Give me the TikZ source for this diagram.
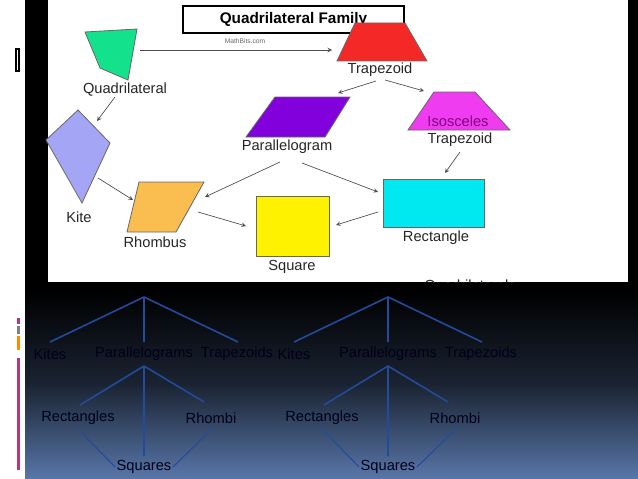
\documentclass[tikz,border=0pt]{standalone}
\usepackage{fontspec}
\setmainfont{Liberation Sans}
\begin{document}
\begin{tikzpicture}[x=0.75pt,y=-0.75pt,
  lbl/.style={font=\fontsize{11}{12}\selectfont,inner sep=0pt,text=black!85},
  tl/.style={font=\fontsize{11}{12}\selectfont,inner sep=1pt,text=black!90!blue},
  ar/.style={->,>=stealth,draw=black!70,line width=0.5pt},
  tr/.style={draw=treeblue,line width=1.2pt},
  sh/.style={draw=black!60,line width=0.6pt}]
\definecolor{treeblue}{RGB}{35,75,155}
\definecolor{botblue}{RGB}{88,118,168}
\definecolor{qgreen}{RGB}{20,225,140}
\definecolor{qcyan}{RGB}{0,232,240}
\definecolor{qmag}{RGB}{240,60,240}
\definecolor{qpurp}{RGB}{130,0,220}
\definecolor{qlav}{RGB}{165,165,245}
\definecolor{qorange}{RGB}{250,190,80}
\definecolor{qred}{RGB}{245,40,40}
\useasboundingbox (0,0) rectangle (638,478);
\fill[white] (0,0) rectangle (638,478);
\fill[black] (25,0) rectangle (638,478);
\shade[top color=black,bottom color=botblue,middle color=black!70!botblue] (25,290) rectangle (638,478);
\fill[black] (15,48) rectangle (20,72);
\fill[white] (17,50) rectangle (18,70);
\fill[black!30!magenta] (17,358) rectangle (20,470);
\fill[black!30!magenta] (17,318) rectangle (20,324);
\fill[gray] (17,326) rectangle (20,334);
\fill[orange!90!yellow] (17,336) rectangle (20,350);
% white panel
\fill[white] (48,0) rectangle (628,282);
\begin{scope}
\clip (48,270) rectangle (628,282);
\node[lbl] (qcut) at (470,287) {Quadrilaterals};
\end{scope}
% title
\node[draw=black,line width=1pt,minimum width=165.75pt,minimum height=20.25pt,font=\bfseries\fontsize{11.5}{12}\selectfont] (title) at (293.5,19.5) {Quadrilateral Family};
\node[font=\fontsize{5}{5}\selectfont,text=black!60] (mb) at (245,41) {MathBits.com};
% shapes
\filldraw[sh,fill=qgreen] (85,32) -- (137,29) -- (128,80) -- (100,68) -- cycle;
\node[lbl] (lq) at (125,90) {Quadrilateral};
\filldraw[sh,fill=qred] (355,23) -- (405,23) -- (427,61) -- (337,61) -- cycle;
\node[lbl] (lt) at (380,70) {Trapezoid};
\filldraw[sh,fill=qpurp] (275,97) -- (350,97) -- (325,137) -- (246,137) -- cycle;
\node[lbl] (lp) at (287,147) {Parallelogram};
\filldraw[sh,fill=qmag] (434,92) -- (475,92) -- (510,130) -- (408,130) -- cycle;
\node[lbl,text=violet] (li) at (458,121) {Isosceles};
\node[lbl] (li2) at (460,140) {Trapezoid};
\filldraw[sh,fill=qlav] (78,110) -- (110,143) -- (82,203) -- (46,140) -- cycle;
\node[lbl] (lk) at (79,217) {Kite};
\filldraw[sh,fill=qorange] (139,182) -- (204,182) -- (176,232) -- (127,232) -- cycle;
\node[lbl] (lr) at (155,242) {Rhombus};
\filldraw[sh,fill=yellow] (256,196) rectangle (329,256);
\node[lbl] (ls) at (292,267) {Square};
\filldraw[sh,fill=qcyan] (383,179) rectangle (484,227);
\node[lbl] (lre) at (436,238) {Rectangle};
% arrows
\coordinate (a1) at (140,50); \coordinate (b1) at (332,50);
\coordinate (a2) at (376,81); \coordinate (b2) at (338,93);
\coordinate (a3) at (385,80); \coordinate (b3) at (424,91);
\coordinate (a4) at (460,152); \coordinate (b4) at (445,173);
\coordinate (a5) at (115,97); \coordinate (b5) at (97,121);
\coordinate (a6) at (98,178); \coordinate (b6) at (133,200);
\coordinate (a7) at (280,162); \coordinate (b7) at (205,197);
\coordinate (a8) at (302,163); \coordinate (b8) at (378,192);
\coordinate (a9) at (198,212); \coordinate (b9) at (246,226);
\coordinate (a10) at (378,212); \coordinate (b10) at (336,225);
\foreach \i in {1,...,10} \draw[ar] (a\i) -- (b\i);
% trees
\foreach \dx/\s in {0/l,244/r}{
\begin{scope}[xshift=\dx*0.75pt]
\coordinate (top\s) at (144,297);
\node[tl] (k\s) at (50,354) {Kites};
\node[tl] (p\s) at (144,354) {Parallelograms};
\node[tl] (t\s) at (237,354) {Trapezoids};
\draw[tr] (top\s) -- (50,342) (top\s) -- (144,342) (top\s) -- (238,342);
\coordinate (sub\s) at (144,366);
\node[tl] (re\s) at (78,418) {Rectangles};
\node[tl] (rh\s) at (211,418) {Rhombi};
\node[tl] (sq\s) at (144,467) {Squares};
\draw[tr] (sub\s) -- (80,405) (sub\s) -- (144,456) (sub\s) -- (204,402);
\draw[tr,line width=0.8pt] (78,429) -- (sq\s.west) (sq\s.east) -- (212,429);
\end{scope}}
\end{tikzpicture}
\end{document}
